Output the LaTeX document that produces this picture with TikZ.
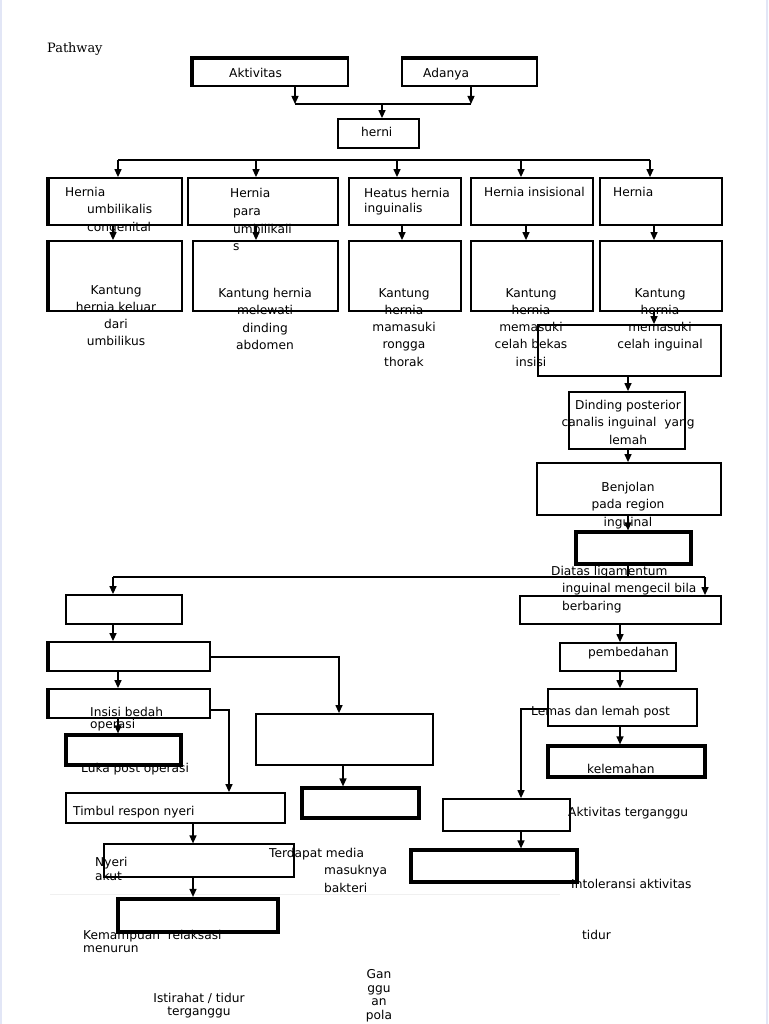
\documentclass[tikz,border=0pt]{standalone}
\usepackage{fontspec}
\setmainfont{DejaVu Sans}
\newfontfamily\serifpw{DejaVu Serif}
\usetikzlibrary{fit,arrows.meta}
\definecolor{lav}{RGB}{226,230,246}
\definecolor{faint}{RGB}{240,240,240}
\begin{document}
\begin{tikzpicture}[x=1pt,y=-1pt,
  box/.style={draw, line width=1.8pt, inner sep=0pt},
  thk/.style={draw, line width=3.2pt, inner sep=0pt},
  thn/.style={draw, line width=1.2pt, inner sep=0pt},
  arr/.style={-{Triangle[width=7pt,length=8pt]}, line width=1.3pt},
  ln/.style={line width=1.3pt},
  tx/.style={inner sep=0pt, font=\fontsize{12.2}{#1}\selectfont},
  tx/.default=17.5,
  lbord/.style={line width=3.4pt}
]
\useasboundingbox (0,0) rectangle (768,1024);
\fill[white] (0,0) rectangle (768,1024);
\fill[lav] (0,0) rectangle (2,1024);
\fill[lav] (766,0) rectangle (768,1024);
\draw[faint, line width=1pt] (50,894) -- (560,894);

% title
\node[inner sep=0pt, anchor=base west, font=\serifpw\fontsize{12.9}{15}\selectfont] (title) at (47,53) {Pathway};

% top boxes
\node[box, fit={(193,59) (348,86)}] (akt) {};
\node[box, fit={(402,59) (537,86)}] (ada) {};
\draw[lbord] (akt.south west) -- (akt.north west) -- (akt.north east);
\draw[lbord] (ada.north west) -- (ada.north east);
\node[tx, anchor=base west] (taktv) at (229,78) {Aktivitas};
\node[tx, anchor=base west] (tada) at (423,78) {Adanya};
\node[box, fit={(338,119) (419,148)}] (herni) {};
\node[tx, anchor=base west] (therni) at (361,137) {herni};

\coordinate (ja) at (295,104);
\coordinate (jb) at (471,104);
\coordinate (jc) at (382,104);
\draw[arr] (akt.south -| ja) -- (ja);
\draw[arr] (ada.south -| jb) -- (jb);
\draw[ln] (ja) -- (jb);
\draw[arr] (jc) -- (herni.north -| jc);

% bus to row 1
\coordinate (bus1) at (118,160);
\coordinate (bus2) at (256,160);
\coordinate (bus3) at (397,160);
\coordinate (bus4) at (521,160);
\coordinate (bus5) at (650,160);
\draw[ln] (bus1) -- (bus5);

% row 1
\node[box, fit={(49,178) (182,225)}] (b1) {};
\node[box, fit={(188,178) (338,225)}] (b2) {};
\node[box, fit={(349,178) (461,225)}] (b3) {};
\node[box, fit={(471,178) (593,225)}] (b4) {};
\node[box, fit={(600,178) (722,225)}] (b5) {};
\draw[lbord] (b1.south west) -- (b1.north west);
\foreach \i in {1,...,5} { \draw[arr] (bus\i) -- (b\i.north -| bus\i); }

\node[tx, anchor=north west, align=left] (tb1) at (65,187) {Hernia\\\hspace*{22pt}umbilikalis\\\hspace*{22pt}congenital};
\node[tx=17.8, anchor=north west, align=left] (tb2) at (230,188) {Hernia\\\hspace*{3pt}para\\\hspace*{3pt}umbilikali\\\hspace*{3pt}s};
\node[tx=15, anchor=north west, align=left] (tb3) at (364,188) {Heatus hernia\\inguinalis};
\node[tx, anchor=base west] (tb4) at (484,197) {Hernia insisional};
\node[tx, anchor=base west] (tb5) at (613,197) {Hernia};

% row 2
\node[box, fit={(49,241) (182,311)}] (c1) {};
\node[box, fit={(193,241) (338,311)}] (c2) {};
\node[box, fit={(349,241) (461,311)}] (c3) {};
\node[box, fit={(471,241) (593,311)}] (c4) {};
\node[box, fit={(600,241) (722,311)}] (c5) {};
\draw[lbord] (c1.south west) -- (c1.north west);
\coordinate (x1) at (113,0);
\coordinate (x2) at (256,0);
\coordinate (x3) at (402,0);
\coordinate (x4) at (526,0);
\coordinate (x5) at (654,0);
\foreach \i in {1,...,5} { \draw[arr] (b\i.south -| x\i) -- (c\i.north -| x\i); }

\node[tx=17.3, anchor=north, align=center] (tc1) at (116,285) {Kantung\\hernia keluar\\dari\\umbilikus};
\node[tx=17.3, anchor=north, align=center] (tc2) at (265,288) {Kantung hernia\\melewati\\dinding\\abdomen};
\node[tx=17.3, anchor=north, align=center] (tc3) at (404,288) {Kantung\\hernia\\mamasuki\\rongga\\thorak};
\node[tx=17.3, anchor=north, align=center] (tc4) at (531,288) {Kantung\\hernia\\memasuki\\celah bekas\\insisi};
\node[tx=17.3, anchor=north, align=center] (tc5) at (660,288) {Kantung\\hernia\\memasuki\\celah inguinal};

% right chain
\node[box, fit={(538,325) (721,376)}] (d) {};
\draw[arr] (c5.south -| x5) -- (d.north -| x5);
\coordinate (xr) at (628,0);
\node[box, fit={(569,392) (685,449)}] (e) {};
\node[box, fit={(537,463) (721,515)}] (f) {};
\node[thk, fit={(576,532) (691,564)}] (g) {};
\draw[arr] (d.south -| xr) -- (e.north -| xr);
\draw[arr] (e.south -| xr) -- (f.north -| xr);
\draw[arr] (f.south -| xr) -- (g.north -| xr);
\node[tx, anchor=north, align=center] (te) at (628,400) {Dinding posterior\\canalis inguinal\ \ yang\\lemah};
\node[tx, anchor=north, align=center] (tf) at (628,482) {Benjolan\\pada region\\inguinal};

% split bus
\coordinate (jg) at (628,577);
\coordinate (jl) at (113,577);
\coordinate (jr) at (705,577);
\draw[ln] (g.south -| jg) -- (jg);
\draw[ln] (jl) -- (jr);
\node[box, fit={(66,595) (182,624)}] (h2) {};
\node[box, fit={(520,596) (721,624)}] (h1) {};
\draw[arr] (jl) -- (h2.north -| jl);
\draw[arr] (jr) -- (h1.north -| jr);
\node[tx, anchor=north west, align=left] (tdiat) at (551,566) {Diatas ligamentum\\\hspace*{11pt}inguinal mengecil bila\\\hspace*{11pt}berbaring};

% right lower chain
\coordinate (xq) at (620,0);
\node[box, fit={(560,643) (676,671)}] (pemb) {};
\node[box, fit={(548,689) (697,726)}] (lemas) {};
\node[thk, fit={(548,746) (705,777)}] (kel) {};
\draw[arr] (h1.south -| xq) -- (pemb.north -| xq);
\draw[arr] (pemb.south -| xq) -- (lemas.north -| xq);
\draw[arr] (lemas.south -| xq) -- (kel.north -| xq);
\node[tx, anchor=base west] (tpemb) at (588,656) {pembedahan};
\node[tx, anchor=base west] (tlemas) at (531,715) {Lemas dan lemah post};
\node[tx, anchor=base west] (tkel) at (587,773) {kelemahan};

\coordinate (lm) at (521,709);
\node[box, fit={(443,799) (570,831)}] (akter) {};
\node[thk, fit={(411,850) (577,882)}] (intol) {};
\draw[arr] (lemas.west |- lm) -- (lm) -- (akter.north -| lm);
\draw[arr] (akter.south -| lm) -- (intol.north -| lm);
\node[tx, anchor=base west] (takter) at (568,816) {Aktivitas terganggu};
\node[tx, anchor=base west] (tintol) at (571,888) {Intoleransi aktivitas};

% left chain
\coordinate (xl) at (118,0);
\node[box, fit={(49,642) (210,671)}] (ibox) {};
\node[box, fit={(49,689) (210,718)}] (ins) {};
\node[thk, fit={(66,735) (181,765)}] (luka) {};
\draw[lbord] (ibox.south west) -- (ibox.north west);
\draw[lbord] (ins.south west) -- (ins.north west);
\draw[arr] (h2.south -| jl) -- (ibox.north -| jl);
\draw[arr] (ibox.south -| xl) -- (ins.north -| xl);
\draw[arr] (ins.south -| xl) -- (luka.north -| xl);
\node[tx=12.5, anchor=north west, align=left] (tins) at (90,707) {Insisi bedah\\operasi};
\node[tx, anchor=base west] (tluka) at (81,772) {Luka post operasi};

\coordinate (ij) at (339,657);
\node[box, fit={(256,714) (433,765)}] (jbox) {};
\node[thk, fit={(302,788) (419,818)}] (kbox) {};
\draw[arr] (ibox.east |- ij) -- (ij) -- (jbox.north -| ij);
\coordinate (xk) at (343,0);
\draw[arr] (jbox.south -| xk) -- (kbox.north -| xk);

\coordinate (ij2) at (229,710);
\node[box, fit={(66,793) (285,823)}] (timbul) {};
\draw[arr] (ins.east |- ij2) -- (ij2) -- (timbul.north -| ij2);
\node[tx, anchor=base west] (ttimbul) at (73,815) {Timbul respon nyeri};

\coordinate (xn) at (193,0);
\node[thn, fit={(104,844) (294,877)}] (nyeri) {};
\node[draw, line width=4.2pt, inner sep=0pt, fit={(118,899) (278,932)}] (kemam) {};
\draw[arr] (timbul.south -| xn) -- (nyeri.north -| xn);
\draw[arr] (nyeri.south -| xn) -- (kemam.north -| xn);
\node[tx=14.5, anchor=north west, align=left] (tnyeri) at (95,857) {Nyeri\\akut};
\node[tx=13.5, anchor=north west, align=left] (tkemam) at (83,930) {Kemampuan\ \ relaksasi\\menurun};

\node[tx, anchor=north west, align=left] (tterd) at (269,848) {Terdapat media\\\hspace*{55pt}masuknya\\\hspace*{55pt}bakteri};

\node[tx, anchor=base west] (ttidur) at (582,939) {tidur};
\node[tx=13.5, anchor=north, align=center] (tist) at (199,993) {Istirahat / tidur\\terganggu};
\node[tx=13.8, anchor=north, align=center] (tgan) at (379,969) {Gan\\ggu\\an\\pola};
\end{tikzpicture}
\end{document}
